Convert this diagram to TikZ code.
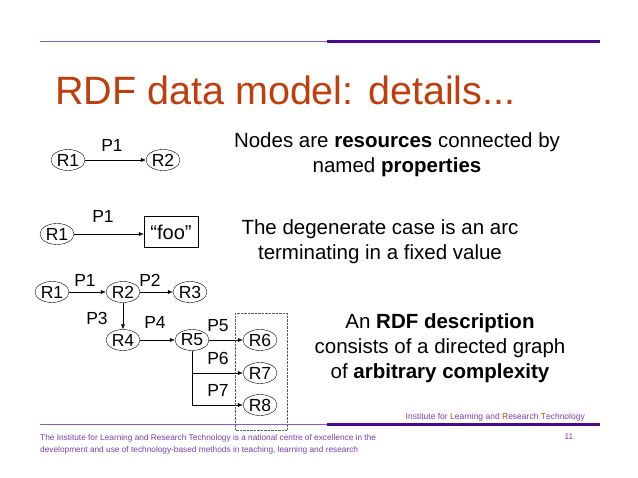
\documentclass[tikz,border=0pt]{standalone}
\usepackage{fontspec}
\setmainfont{Liberation Sans}
\usetikzlibrary{arrows.meta,shapes.geometric}
\definecolor{ttl}{HTML}{BE3F0C}
\definecolor{pur}{HTML}{4B0B8F}
\definecolor{lpur}{HTML}{8A5CC0}
\definecolor{ftx}{HTML}{7A3FB0}
\tikzset{
  res/.style={draw,ellipse,inner sep=0pt,minimum width=34pt,minimum height=21pt,font=\fontsize{17.5}{17.5}\selectfont},
  lbl/.style={font=\fontsize{17.5}{17.5}\selectfont},
  arc/.style={-{Latex[length=5pt,width=4pt]},thin},
  txt/.style={font=\fontsize{20.5}{25}\selectfont,align=center},
}
\begin{document}
\begin{tikzpicture}[x=1pt,y=-1pt]
\useasboundingbox (0,0) rectangle (638,478);
\fill[white] (0,0) rectangle (638,478);
% top rule
\draw[lpur,line width=1pt] (40,42) -- (327,42);
\draw[pur,line width=3pt] (327,42) -- (600,42);
\node[anchor=base west,text=ttl,font=\fontsize{39.5}{39.5}\selectfont,inner sep=0pt] (title) at (55,105) {RDF data model: details...};
% diagram 1
\node[res] (a1) at (68,160) {R1};
\node[res] (a2) at (163,160) {R2};
\draw[arc] (a1) -- (a2);
\node[lbl] (p1a) at (112,145) {P1};
% diagram 2
\node[res] (b1) at (57,234) {R1};
\node[draw,minimum width=54pt,minimum height=31pt,font=\fontsize{20}{20}\selectfont] (foo) at (171,232) {“foo”};
\draw[arc] (b1) -- (b1 -| foo.west);
\node[lbl] (p1b) at (103,216) {P1};
% diagram 3
\node[res] (c1) at (52,292) {R1};
\node[res] (c2) at (123,292) {R2};
\node[res] (c3) at (190,292) {R3};
\node[res] (c4) at (123,340) {R4};
\node[res] (c5) at (192,340) {R5};
\node[res] (c6) at (260,340) {R6};
\node[res] (c7) at (260,373) {R7};
\node[res] (c8) at (260,405) {R8};
\draw[arc] (c1) -- (c2);
\draw[arc] (c2) -- (c3);
\draw[arc] (c2) -- (c4);
\draw[arc] (c4) -- (c5);
\draw[arc] (c5) -- (c6);
\draw[arc] (c5.south) |- (c7.west);
\draw[arc] (c5.south) |- (c8.west);
\node[lbl] at (85,280) {P1};
\node[lbl] at (150,280) {P2};
\node[lbl] at (97,318) {P3};
\node[lbl] at (155,322) {P4};
\node[lbl] at (218,326) {P5};
\node[lbl] at (218,358) {P6};
\node[lbl] at (218,390) {P7};
\draw[densely dotted,gray!70!black] (235,313) rectangle (287,430);
% text
\node[txt] (t1) at (397,155) {Nodes are \textbf{resources} connected by\\named \textbf{properties}};
\node[txt] (t2) at (380,242) {The degenerate case is an arc\\terminating in a fixed value};
\node[txt] (t3) at (440,348) {An \textbf{RDF description}\\consists of a directed graph\\of \textbf{arbitrary complexity}};
% bottom
\draw[lpur,line width=1pt] (40,425) -- (327,425);
\draw[pur,line width=3pt] (327,425) -- (600,425);
\node[anchor=base east,inner sep=0pt,font=\fontsize{8.5}{9}\selectfont,text=ftx] (inst) at (585,420) {\textcolor{ttl}{I}nstitute for \textcolor{ttl}{L}earning and \textcolor{ttl}{R}esearch \textcolor{ttl}{T}echnology};
\node[anchor=north west,inner sep=0pt,align=left,font=\fontsize{8.3}{12}\selectfont,text=ftx] (foot) at (40,434) {The Institute for Learning and Research Technology is a national centre of excellence in the\\development and use of technology-based methods in teaching, learning and research};
\node[anchor=north,inner sep=0pt,font=\fontsize{8.3}{9}\selectfont,text=ftx] (pg) at (569,434) {11};
\end{tikzpicture}
\end{document}
